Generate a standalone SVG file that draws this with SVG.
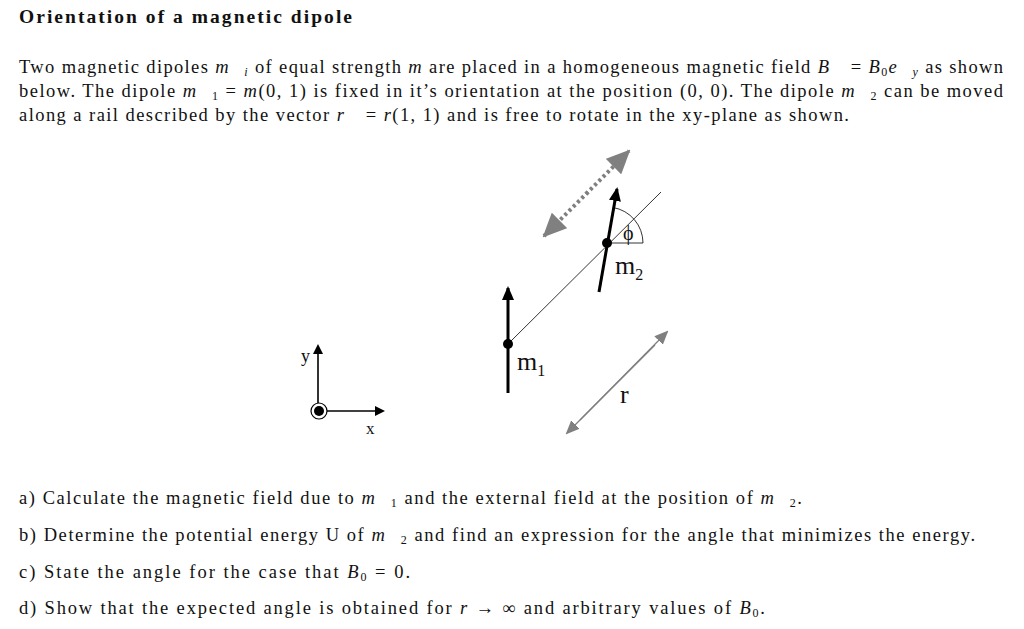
<svg xmlns="http://www.w3.org/2000/svg" width="1024" height="629" viewBox="0 0 1024 629">
<style>
text{font-family:"Liberation Serif","DejaVu Serif",serif;fill:#111}
.b{font-size:18.5px}
.i{font-style:italic}
.s{font-size:12px}
.blk{stroke:#000;fill:none}
.gr{stroke:#808080;fill:none}
</style>
<defs>
<marker id="ak" markerWidth="10" markerHeight="10" refX="8" refY="5" orient="auto" markerUnits="userSpaceOnUse"><path d="M0,0 L10,5 L0,10 Z" fill="#000"/></marker>
<marker id="akb" markerWidth="14" markerHeight="12" refX="12" refY="6" orient="auto" markerUnits="userSpaceOnUse"><path d="M0,0 L14,6 L0,12 Z" fill="#000"/></marker>
<marker id="ag" markerWidth="14" markerHeight="12" refX="12" refY="6" orient="auto" markerUnits="userSpaceOnUse"><path d="M0,0 L14,6 L0,12 Z" fill="#808080"/></marker>
<marker id="agb" markerWidth="24" markerHeight="22" refX="22" refY="11" orient="auto" markerUnits="userSpaceOnUse"><path d="M0,0 L24,11 L0,22 Z" fill="#808080"/></marker>
</defs>
<text x="19" y="23" font-size="19.5" font-weight="bold" textLength="333">Orientation of a magnetic dipole</text>
<text class="b" x="19" y="73" textLength="984" lengthAdjust="spacing">Two magnetic dipoles <tspan class="i">m⃗</tspan><tspan class="i s" dy="3">i</tspan><tspan dy="-3"> of equal strength </tspan><tspan class="i">m</tspan> are placed in a homogeneous magnetic field <tspan class="i">B⃗</tspan> = <tspan class="i">B</tspan><tspan class="s" dy="3">0</tspan><tspan class="i" dy="-3">e⃗</tspan><tspan class="i s" dy="3">y</tspan><tspan dy="-3"> as shown</tspan></text>
<text class="b" x="19" y="97" textLength="984" lengthAdjust="spacing">below. The dipole <tspan class="i">m⃗</tspan><tspan class="s" dy="3">1</tspan><tspan dy="-3"> = </tspan><tspan class="i">m</tspan>(0, 1) is fixed in it’s orientation at the position (0, 0). The dipole <tspan class="i">m⃗</tspan><tspan class="s" dy="3">2</tspan><tspan dy="-3"> can be moved</tspan></text>
<text class="b" x="19" y="121" textLength="830" lengthAdjust="spacing">along a rail described by the vector <tspan class="i">r⃗</tspan> = <tspan class="i">r</tspan>(1, 1) and is free to rotate in the xy-plane as shown.</text>
<g id="axes">
<line class="blk" x1="318" y1="403" x2="318" y2="346" stroke-width="1.6" marker-end="url(#ak)"/>
<line class="blk" x1="327" y1="411" x2="383" y2="411" stroke-width="1.6" marker-end="url(#ak)"/>
<circle cx="319" cy="411" r="8" fill="#fff" stroke="#000" stroke-width="1.2"/>
<circle cx="319" cy="411" r="5" fill="#000"/>
<text x="301" y="362" font-size="18">y</text>
<text x="366" y="434" font-size="17">x</text>
</g>
<g id="connectors">
<line x1="508" y1="344" x2="661" y2="192" stroke="#000" stroke-width="0.8"/>
<line class="gr" x1="580" y1="420" x2="667" y2="332" stroke-width="1.2" marker-end="url(#ag)"/>
<line class="gr" x1="655" y1="345" x2="567" y2="433" stroke-width="1.2" marker-end="url(#ag)"/>
<line class="gr" x1="586" y1="194" x2="629" y2="151" stroke-width="4" stroke-dasharray="3,3" marker-end="url(#agb)"/>
<line class="gr" x1="588" y1="192" x2="544" y2="236" stroke-width="4" stroke-dasharray="3,3" marker-end="url(#agb)"/>
</g>
<g id="m1">
<line class="blk" x1="508" y1="393" x2="508" y2="288" stroke-width="3" marker-end="url(#akb)"/>
<circle cx="508" cy="344" r="5" fill="#000"/>
<text x="517" y="370" font-size="26">m<tspan font-size="16" dy="6">1</tspan></text>
</g>
<g id="m2">
<line class="blk" x1="599" y1="292" x2="617" y2="189" stroke-width="3" marker-end="url(#akb)"/>
<circle cx="607" cy="243" r="5" fill="#000"/>
<line x1="607" y1="243" x2="643" y2="243" stroke="#000" stroke-width="0.8"/>
<path d="M643,243 A36,36 0 0 0 613,207.5" fill="none" stroke="#000" stroke-width="0.8"/>
<text x="623" y="240" font-size="20">ϕ</text>
<text x="615" y="274" font-size="26">m<tspan font-size="16" dy="6">2</tspan></text>
</g>
<text x="620" y="403" font-size="26">r</text>
<text class="b" x="19" y="504" textLength="783" lengthAdjust="spacing">a) Calculate the magnetic field due to <tspan class="i">m⃗</tspan><tspan class="s" dy="3">1</tspan><tspan dy="-3"> and the external field at the position of </tspan><tspan class="i">m⃗</tspan><tspan class="s" dy="3">2</tspan><tspan dy="-3">.</tspan></text>
<text class="b" x="19" y="541" textLength="956" lengthAdjust="spacing">b) Determine the potential energy U of <tspan class="i">m⃗</tspan><tspan class="s" dy="3">2</tspan><tspan dy="-3"> and find an expression for the angle that minimizes the energy.</tspan></text>
<text class="b" x="19" y="578" textLength="391" lengthAdjust="spacing">c) State the angle for the case that <tspan class="i">B</tspan><tspan class="s" dy="3">0</tspan><tspan dy="-3"> = 0.</tspan></text>
<text class="b" x="19" y="614" textLength="746" lengthAdjust="spacing">d) Show that the expected angle is obtained for <tspan class="i">r</tspan> → ∞ and arbitrary values of <tspan class="i">B</tspan><tspan class="s" dy="3">0</tspan><tspan dy="-3">.</tspan></text>
</svg>
